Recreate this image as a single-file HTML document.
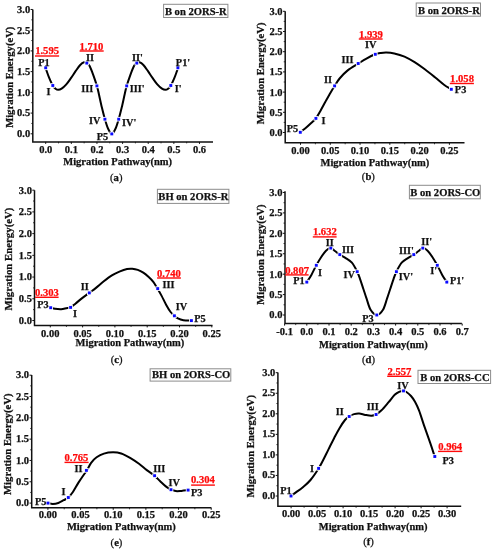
<!DOCTYPE html>
<html><head><meta charset="utf-8"><title>Migration energy profiles</title>
<style>
html,body{margin:0;padding:0;background:#fff;}
body{width:493px;height:550px;overflow:hidden;}
svg{display:block;}
svg text{font-family:'Liberation Serif', 'Times New Roman', serif;font-weight:bold;stroke-width:0.25px;}
svg text.nw{font-weight:normal;} svg text .bd{font-weight:bold;}
</style></head>
<body>
<svg width="493" height="550" viewBox="0 0 493 550">
<rect width="493" height="550" fill="#fff"/>
<path d="M32.80,9.50 V141.90 H213.00" fill="none" stroke="#111" stroke-width="1.5"/>
<line x1="30.60" y1="133.80" x2="32.80" y2="133.80" stroke="#111" stroke-width="1"/>
<line x1="30.60" y1="113.08" x2="32.80" y2="113.08" stroke="#111" stroke-width="1"/>
<line x1="30.60" y1="92.36" x2="32.80" y2="92.36" stroke="#111" stroke-width="1"/>
<line x1="30.60" y1="71.64" x2="32.80" y2="71.64" stroke="#111" stroke-width="1"/>
<line x1="30.60" y1="50.92" x2="32.80" y2="50.92" stroke="#111" stroke-width="1"/>
<line x1="30.60" y1="30.20" x2="32.80" y2="30.20" stroke="#111" stroke-width="1"/>
<line x1="30.60" y1="9.48" x2="32.80" y2="9.48" stroke="#111" stroke-width="1"/>
<line x1="31.30" y1="123.44" x2="32.80" y2="123.44" stroke="#111" stroke-width="0.8"/>
<line x1="31.30" y1="102.72" x2="32.80" y2="102.72" stroke="#111" stroke-width="0.8"/>
<line x1="31.30" y1="82.00" x2="32.80" y2="82.00" stroke="#111" stroke-width="0.8"/>
<line x1="31.30" y1="61.28" x2="32.80" y2="61.28" stroke="#111" stroke-width="0.8"/>
<line x1="31.30" y1="40.56" x2="32.80" y2="40.56" stroke="#111" stroke-width="0.8"/>
<line x1="31.30" y1="19.84" x2="32.80" y2="19.84" stroke="#111" stroke-width="0.8"/>
<line x1="58.52" y1="141.90" x2="58.52" y2="143.40" stroke="#111" stroke-width="0.8"/>
<line x1="84.15" y1="141.90" x2="84.15" y2="143.40" stroke="#111" stroke-width="0.8"/>
<line x1="109.78" y1="141.90" x2="109.78" y2="143.40" stroke="#111" stroke-width="0.8"/>
<line x1="135.41" y1="141.90" x2="135.41" y2="143.40" stroke="#111" stroke-width="0.8"/>
<line x1="161.04" y1="141.90" x2="161.04" y2="143.40" stroke="#111" stroke-width="0.8"/>
<line x1="186.67" y1="141.90" x2="186.67" y2="143.40" stroke="#111" stroke-width="0.8"/>
<line x1="45.70" y1="141.90" x2="45.70" y2="143.90" stroke="#111" stroke-width="1"/>
<line x1="71.33" y1="141.90" x2="71.33" y2="143.90" stroke="#111" stroke-width="1"/>
<line x1="96.96" y1="141.90" x2="96.96" y2="143.90" stroke="#111" stroke-width="1"/>
<line x1="122.59" y1="141.90" x2="122.59" y2="143.90" stroke="#111" stroke-width="1"/>
<line x1="148.22" y1="141.90" x2="148.22" y2="143.90" stroke="#111" stroke-width="1"/>
<line x1="173.85" y1="141.90" x2="173.85" y2="143.90" stroke="#111" stroke-width="1"/>
<line x1="199.48" y1="141.90" x2="199.48" y2="143.90" stroke="#111" stroke-width="1"/>
<rect x="163.60" y="4.30" width="64.30" height="13.20" fill="#fff" stroke="#8c8c8c" stroke-width="1"/>
<path d="M45.70,67.80 C45.92,68.50 46.40,70.27 47.00,72.00 C47.60,73.73 48.35,75.95 49.30,78.20 C50.25,80.45 51.67,83.75 52.70,85.50 C53.73,87.25 54.58,87.98 55.50,88.70 C56.42,89.42 57.18,89.80 58.20,89.80 C59.22,89.80 60.25,89.60 61.60,88.70 C62.95,87.80 64.75,86.15 66.30,84.40 C67.85,82.65 69.35,80.40 70.90,78.20 C72.45,76.00 74.05,73.40 75.60,71.20 C77.15,69.00 78.78,66.48 80.20,65.00 C81.62,63.52 83.00,62.63 84.10,62.30 C85.20,61.97 85.90,62.42 86.80,63.00 C87.70,63.58 88.42,63.78 89.50,65.80 C90.58,67.82 92.07,71.75 93.30,75.10 C94.53,78.45 95.98,82.80 96.90,85.90 C97.82,89.00 97.97,90.08 98.80,93.70 C99.63,97.32 100.88,103.35 101.90,107.60 C102.92,111.85 103.88,115.72 104.90,119.20 C105.92,122.68 106.85,126.05 108.00,128.50 C109.15,130.95 110.53,133.90 111.80,133.90 C113.07,133.90 114.45,130.95 115.60,128.50 C116.75,126.05 117.68,122.68 118.70,119.20 C119.72,115.72 120.68,111.85 121.70,107.60 C122.72,103.35 123.97,97.32 124.80,93.70 C125.63,90.08 125.78,89.00 126.70,85.90 C127.62,82.80 129.07,78.45 130.30,75.10 C131.53,71.75 133.02,67.82 134.10,65.80 C135.18,63.78 135.90,63.58 136.80,63.00 C137.70,62.42 138.40,61.97 139.50,62.30 C140.60,62.63 141.98,63.52 143.40,65.00 C144.82,66.48 146.45,69.00 148.00,71.20 C149.55,73.40 151.15,76.00 152.70,78.20 C154.25,80.40 155.75,82.65 157.30,84.40 C158.85,86.15 160.65,87.80 162.00,88.70 C163.35,89.60 164.38,89.80 165.40,89.80 C166.42,89.80 167.18,89.42 168.10,88.70 C169.02,87.98 169.87,87.25 170.90,85.50 C171.93,83.75 173.35,80.45 174.30,78.20 C175.25,75.95 176.00,73.73 176.60,72.00 C177.20,70.27 177.68,68.50 177.90,67.80" fill="none" stroke="#000" stroke-width="2" stroke-linecap="round"/>
<rect x="43.40" y="65.50" width="4.6" height="4.6" fill="#fff"/>
<rect x="50.50" y="83.20" width="4.6" height="4.6" fill="#fff"/>
<rect x="84.50" y="60.80" width="4.6" height="4.6" fill="#fff"/>
<rect x="94.60" y="83.60" width="4.6" height="4.6" fill="#fff"/>
<rect x="102.60" y="116.90" width="4.6" height="4.6" fill="#fff"/>
<rect x="109.50" y="131.60" width="4.6" height="4.6" fill="#fff"/>
<rect x="116.40" y="116.90" width="4.6" height="4.6" fill="#fff"/>
<rect x="124.40" y="83.60" width="4.6" height="4.6" fill="#fff"/>
<rect x="134.50" y="60.80" width="4.6" height="4.6" fill="#fff"/>
<rect x="168.50" y="83.20" width="4.6" height="4.6" fill="#fff"/>
<rect x="175.60" y="65.50" width="4.6" height="4.6" fill="#fff"/>
<rect x="44.25" y="66.35" width="2.9" height="2.9" fill="#0a0aff"/>
<rect x="51.35" y="84.05" width="2.9" height="2.9" fill="#0a0aff"/>
<rect x="85.35" y="61.65" width="2.9" height="2.9" fill="#0a0aff"/>
<rect x="95.45" y="84.45" width="2.9" height="2.9" fill="#0a0aff"/>
<rect x="103.45" y="117.75" width="2.9" height="2.9" fill="#0a0aff"/>
<rect x="110.35" y="132.45" width="2.9" height="2.9" fill="#0a0aff"/>
<rect x="117.25" y="117.75" width="2.9" height="2.9" fill="#0a0aff"/>
<rect x="125.25" y="84.45" width="2.9" height="2.9" fill="#0a0aff"/>
<rect x="135.35" y="61.65" width="2.9" height="2.9" fill="#0a0aff"/>
<rect x="169.35" y="84.05" width="2.9" height="2.9" fill="#0a0aff"/>
<rect x="176.45" y="66.35" width="2.9" height="2.9" fill="#0a0aff"/>
<line x1="35.00" y1="56.00" x2="59.10" y2="56.00" stroke="#ff0a0a" stroke-width="1.4"/>
<line x1="79.60" y1="51.00" x2="103.70" y2="51.00" stroke="#ff0a0a" stroke-width="1.4"/>
<path d="M285.20,11.20 V142.80 H464.50" fill="none" stroke="#111" stroke-width="1.5"/>
<line x1="283.00" y1="132.50" x2="285.20" y2="132.50" stroke="#111" stroke-width="1"/>
<line x1="283.00" y1="112.30" x2="285.20" y2="112.30" stroke="#111" stroke-width="1"/>
<line x1="283.00" y1="92.10" x2="285.20" y2="92.10" stroke="#111" stroke-width="1"/>
<line x1="283.00" y1="71.90" x2="285.20" y2="71.90" stroke="#111" stroke-width="1"/>
<line x1="283.00" y1="51.70" x2="285.20" y2="51.70" stroke="#111" stroke-width="1"/>
<line x1="283.00" y1="31.50" x2="285.20" y2="31.50" stroke="#111" stroke-width="1"/>
<line x1="283.00" y1="11.30" x2="285.20" y2="11.30" stroke="#111" stroke-width="1"/>
<line x1="283.70" y1="122.40" x2="285.20" y2="122.40" stroke="#111" stroke-width="0.8"/>
<line x1="283.70" y1="102.20" x2="285.20" y2="102.20" stroke="#111" stroke-width="0.8"/>
<line x1="283.70" y1="82.00" x2="285.20" y2="82.00" stroke="#111" stroke-width="0.8"/>
<line x1="283.70" y1="61.80" x2="285.20" y2="61.80" stroke="#111" stroke-width="0.8"/>
<line x1="283.70" y1="41.60" x2="285.20" y2="41.60" stroke="#111" stroke-width="0.8"/>
<line x1="283.70" y1="21.40" x2="285.20" y2="21.40" stroke="#111" stroke-width="0.8"/>
<line x1="315.39" y1="142.80" x2="315.39" y2="144.30" stroke="#111" stroke-width="0.8"/>
<line x1="345.17" y1="142.80" x2="345.17" y2="144.30" stroke="#111" stroke-width="0.8"/>
<line x1="374.95" y1="142.80" x2="374.95" y2="144.30" stroke="#111" stroke-width="0.8"/>
<line x1="404.73" y1="142.80" x2="404.73" y2="144.30" stroke="#111" stroke-width="0.8"/>
<line x1="434.51" y1="142.80" x2="434.51" y2="144.30" stroke="#111" stroke-width="0.8"/>
<line x1="300.50" y1="142.80" x2="300.50" y2="144.80" stroke="#111" stroke-width="1"/>
<line x1="330.28" y1="142.80" x2="330.28" y2="144.80" stroke="#111" stroke-width="1"/>
<line x1="360.06" y1="142.80" x2="360.06" y2="144.80" stroke="#111" stroke-width="1"/>
<line x1="389.84" y1="142.80" x2="389.84" y2="144.80" stroke="#111" stroke-width="1"/>
<line x1="419.62" y1="142.80" x2="419.62" y2="144.80" stroke="#111" stroke-width="1"/>
<line x1="449.40" y1="142.80" x2="449.40" y2="144.80" stroke="#111" stroke-width="1"/>
<rect x="416.20" y="3.00" width="64.30" height="13.20" fill="#fff" stroke="#8c8c8c" stroke-width="1"/>
<path d="M300.10,132.20 C300.93,131.60 303.25,130.12 305.10,128.60 C306.95,127.08 309.40,124.80 311.20,123.10 C313.00,121.40 314.37,120.43 315.90,118.40 C317.43,116.37 318.82,113.67 320.40,110.90 C321.98,108.13 323.72,104.83 325.40,101.80 C327.08,98.77 328.97,95.33 330.50,92.70 C332.03,90.07 333.08,88.37 334.60,86.00 C336.12,83.63 337.42,81.10 339.60,78.50 C341.78,75.90 344.58,72.88 347.70,70.40 C350.82,67.92 355.25,65.53 358.30,63.60 C361.35,61.67 363.18,60.37 366.00,58.80 C368.82,57.23 372.85,55.15 375.20,54.20 C377.55,53.25 378.27,53.38 380.10,53.10 C381.93,52.82 383.83,52.45 386.20,52.50 C388.57,52.55 391.25,52.72 394.30,53.40 C397.35,54.08 401.12,55.13 404.50,56.60 C407.88,58.07 411.22,60.08 414.60,62.20 C417.98,64.32 421.42,66.80 424.80,69.30 C428.18,71.80 431.70,74.63 434.90,77.20 C438.10,79.77 441.28,82.68 444.00,84.70 C446.72,86.72 450.00,88.53 451.20,89.30" fill="none" stroke="#000" stroke-width="2" stroke-linecap="round"/>
<rect x="298.00" y="130.00" width="4.6" height="4.6" fill="#fff"/>
<rect x="313.60" y="116.10" width="4.6" height="4.6" fill="#fff"/>
<rect x="332.30" y="83.60" width="4.6" height="4.6" fill="#fff"/>
<rect x="355.90" y="61.20" width="4.6" height="4.6" fill="#fff"/>
<rect x="373.00" y="52.00" width="4.6" height="4.6" fill="#fff"/>
<rect x="449.00" y="87.00" width="4.6" height="4.6" fill="#fff"/>
<rect x="298.85" y="130.85" width="2.9" height="2.9" fill="#0a0aff"/>
<rect x="314.45" y="116.95" width="2.9" height="2.9" fill="#0a0aff"/>
<rect x="333.15" y="84.45" width="2.9" height="2.9" fill="#0a0aff"/>
<rect x="356.75" y="62.05" width="2.9" height="2.9" fill="#0a0aff"/>
<rect x="373.85" y="52.85" width="2.9" height="2.9" fill="#0a0aff"/>
<rect x="449.85" y="87.85" width="2.9" height="2.9" fill="#0a0aff"/>
<line x1="358.80" y1="39.00" x2="382.60" y2="39.00" stroke="#ff0a0a" stroke-width="1.4"/>
<line x1="449.80" y1="83.50" x2="473.90" y2="83.50" stroke="#ff0a0a" stroke-width="1.4"/>
<path d="M34.50,190.20 V325.40 H212.50" fill="none" stroke="#111" stroke-width="1.5"/>
<line x1="32.30" y1="320.50" x2="34.50" y2="320.50" stroke="#111" stroke-width="1"/>
<line x1="32.30" y1="298.78" x2="34.50" y2="298.78" stroke="#111" stroke-width="1"/>
<line x1="32.30" y1="277.06" x2="34.50" y2="277.06" stroke="#111" stroke-width="1"/>
<line x1="32.30" y1="255.34" x2="34.50" y2="255.34" stroke="#111" stroke-width="1"/>
<line x1="32.30" y1="233.62" x2="34.50" y2="233.62" stroke="#111" stroke-width="1"/>
<line x1="32.30" y1="211.90" x2="34.50" y2="211.90" stroke="#111" stroke-width="1"/>
<line x1="32.30" y1="190.18" x2="34.50" y2="190.18" stroke="#111" stroke-width="1"/>
<line x1="33.00" y1="309.64" x2="34.50" y2="309.64" stroke="#111" stroke-width="0.8"/>
<line x1="33.00" y1="287.92" x2="34.50" y2="287.92" stroke="#111" stroke-width="0.8"/>
<line x1="33.00" y1="266.20" x2="34.50" y2="266.20" stroke="#111" stroke-width="0.8"/>
<line x1="33.00" y1="244.48" x2="34.50" y2="244.48" stroke="#111" stroke-width="0.8"/>
<line x1="33.00" y1="222.76" x2="34.50" y2="222.76" stroke="#111" stroke-width="0.8"/>
<line x1="33.00" y1="201.04" x2="34.50" y2="201.04" stroke="#111" stroke-width="0.8"/>
<line x1="66.45" y1="325.40" x2="66.45" y2="326.90" stroke="#111" stroke-width="0.8"/>
<line x1="98.75" y1="325.40" x2="98.75" y2="326.90" stroke="#111" stroke-width="0.8"/>
<line x1="131.05" y1="325.40" x2="131.05" y2="326.90" stroke="#111" stroke-width="0.8"/>
<line x1="163.35" y1="325.40" x2="163.35" y2="326.90" stroke="#111" stroke-width="0.8"/>
<line x1="195.65" y1="325.40" x2="195.65" y2="326.90" stroke="#111" stroke-width="0.8"/>
<line x1="50.30" y1="325.40" x2="50.30" y2="327.40" stroke="#111" stroke-width="1"/>
<line x1="82.60" y1="325.40" x2="82.60" y2="327.40" stroke="#111" stroke-width="1"/>
<line x1="114.90" y1="325.40" x2="114.90" y2="327.40" stroke="#111" stroke-width="1"/>
<line x1="147.20" y1="325.40" x2="147.20" y2="327.40" stroke="#111" stroke-width="1"/>
<line x1="179.50" y1="325.40" x2="179.50" y2="327.40" stroke="#111" stroke-width="1"/>
<line x1="211.80" y1="325.40" x2="211.80" y2="327.40" stroke="#111" stroke-width="1"/>
<rect x="157.40" y="189.30" width="71.50" height="14.10" fill="#fff" stroke="#8c8c8c" stroke-width="1"/>
<path d="M50.70,307.70 C51.43,307.88 53.35,308.55 55.10,308.80 C56.85,309.05 59.33,309.28 61.20,309.20 C63.07,309.12 64.75,308.60 66.30,308.30 C67.85,308.00 68.98,308.17 70.50,307.40 C72.02,306.63 73.57,305.17 75.40,303.70 C77.23,302.23 79.20,300.40 81.50,298.60 C83.80,296.80 86.83,294.65 89.20,292.90 C91.57,291.15 93.27,290.03 95.70,288.10 C98.13,286.17 101.10,283.42 103.80,281.30 C106.50,279.18 109.20,277.07 111.90,275.40 C114.60,273.73 117.48,272.37 120.00,271.30 C122.52,270.23 124.95,269.43 127.00,269.00 C129.05,268.57 130.50,268.55 132.30,268.70 C134.10,268.85 135.97,269.23 137.80,269.90 C139.63,270.57 141.48,271.50 143.30,272.70 C145.12,273.90 147.03,275.57 148.70,277.10 C150.37,278.63 151.83,279.97 153.30,281.90 C154.77,283.83 156.13,286.42 157.50,288.70 C158.87,290.98 160.07,292.93 161.50,295.60 C162.93,298.27 164.58,301.97 166.10,304.70 C167.62,307.43 169.23,310.17 170.60,312.00 C171.97,313.83 173.08,314.63 174.30,315.70 C175.52,316.77 176.38,317.65 177.90,318.40 C179.42,319.15 181.20,319.83 183.40,320.20 C185.60,320.57 189.82,320.53 191.10,320.60" fill="none" stroke="#000" stroke-width="2" stroke-linecap="round"/>
<rect x="48.40" y="305.40" width="4.6" height="4.6" fill="#fff"/>
<rect x="68.30" y="305.10" width="4.6" height="4.6" fill="#fff"/>
<rect x="87.00" y="290.60" width="4.6" height="4.6" fill="#fff"/>
<rect x="155.40" y="286.30" width="4.6" height="4.6" fill="#fff"/>
<rect x="172.10" y="313.50" width="4.6" height="4.6" fill="#fff"/>
<rect x="189.10" y="318.30" width="4.6" height="4.6" fill="#fff"/>
<rect x="49.25" y="306.25" width="2.9" height="2.9" fill="#0a0aff"/>
<rect x="69.15" y="305.95" width="2.9" height="2.9" fill="#0a0aff"/>
<rect x="87.85" y="291.45" width="2.9" height="2.9" fill="#0a0aff"/>
<rect x="156.25" y="287.15" width="2.9" height="2.9" fill="#0a0aff"/>
<rect x="172.95" y="314.35" width="2.9" height="2.9" fill="#0a0aff"/>
<rect x="189.95" y="319.15" width="2.9" height="2.9" fill="#0a0aff"/>
<line x1="35.10" y1="297.30" x2="58.60" y2="297.30" stroke="#ff0a0a" stroke-width="1.4"/>
<line x1="157.10" y1="278.00" x2="180.90" y2="278.00" stroke="#ff0a0a" stroke-width="1.4"/>
<path d="M285.00,191.20 V323.60 H461.90" fill="none" stroke="#111" stroke-width="1.5"/>
<line x1="282.80" y1="315.00" x2="285.00" y2="315.00" stroke="#111" stroke-width="1"/>
<line x1="282.80" y1="294.58" x2="285.00" y2="294.58" stroke="#111" stroke-width="1"/>
<line x1="282.80" y1="274.16" x2="285.00" y2="274.16" stroke="#111" stroke-width="1"/>
<line x1="282.80" y1="253.74" x2="285.00" y2="253.74" stroke="#111" stroke-width="1"/>
<line x1="282.80" y1="233.32" x2="285.00" y2="233.32" stroke="#111" stroke-width="1"/>
<line x1="282.80" y1="212.90" x2="285.00" y2="212.90" stroke="#111" stroke-width="1"/>
<line x1="282.80" y1="192.48" x2="285.00" y2="192.48" stroke="#111" stroke-width="1"/>
<line x1="283.50" y1="304.79" x2="285.00" y2="304.79" stroke="#111" stroke-width="0.8"/>
<line x1="283.50" y1="284.37" x2="285.00" y2="284.37" stroke="#111" stroke-width="0.8"/>
<line x1="283.50" y1="263.95" x2="285.00" y2="263.95" stroke="#111" stroke-width="0.8"/>
<line x1="283.50" y1="243.53" x2="285.00" y2="243.53" stroke="#111" stroke-width="0.8"/>
<line x1="283.50" y1="223.11" x2="285.00" y2="223.11" stroke="#111" stroke-width="0.8"/>
<line x1="283.50" y1="202.69" x2="285.00" y2="202.69" stroke="#111" stroke-width="0.8"/>
<line x1="295.70" y1="323.60" x2="295.70" y2="325.10" stroke="#111" stroke-width="0.8"/>
<line x1="317.90" y1="323.60" x2="317.90" y2="325.10" stroke="#111" stroke-width="0.8"/>
<line x1="340.10" y1="323.60" x2="340.10" y2="325.10" stroke="#111" stroke-width="0.8"/>
<line x1="362.30" y1="323.60" x2="362.30" y2="325.10" stroke="#111" stroke-width="0.8"/>
<line x1="384.50" y1="323.60" x2="384.50" y2="325.10" stroke="#111" stroke-width="0.8"/>
<line x1="406.70" y1="323.60" x2="406.70" y2="325.10" stroke="#111" stroke-width="0.8"/>
<line x1="428.90" y1="323.60" x2="428.90" y2="325.10" stroke="#111" stroke-width="0.8"/>
<line x1="451.10" y1="323.60" x2="451.10" y2="325.10" stroke="#111" stroke-width="0.8"/>
<line x1="284.60" y1="323.60" x2="284.60" y2="325.60" stroke="#111" stroke-width="1"/>
<line x1="306.80" y1="323.60" x2="306.80" y2="325.60" stroke="#111" stroke-width="1"/>
<line x1="329.00" y1="323.60" x2="329.00" y2="325.60" stroke="#111" stroke-width="1"/>
<line x1="351.20" y1="323.60" x2="351.20" y2="325.60" stroke="#111" stroke-width="1"/>
<line x1="373.40" y1="323.60" x2="373.40" y2="325.60" stroke="#111" stroke-width="1"/>
<line x1="395.60" y1="323.60" x2="395.60" y2="325.60" stroke="#111" stroke-width="1"/>
<line x1="417.80" y1="323.60" x2="417.80" y2="325.60" stroke="#111" stroke-width="1"/>
<line x1="440.00" y1="323.60" x2="440.00" y2="325.60" stroke="#111" stroke-width="1"/>
<line x1="462.20" y1="323.60" x2="462.20" y2="325.60" stroke="#111" stroke-width="1"/>
<rect x="409.40" y="185.30" width="70.90" height="13.50" fill="#fff" stroke="#8c8c8c" stroke-width="1"/>
<path d="M306.80,282.10 C307.57,280.90 309.82,277.70 311.40,274.90 C312.98,272.10 314.68,268.25 316.30,265.30 C317.92,262.35 319.48,259.63 321.10,257.20 C322.72,254.77 324.42,252.22 326.00,250.70 C327.58,249.18 329.12,248.05 330.60,248.10 C332.08,248.15 333.37,249.92 334.90,251.00 C336.43,252.08 338.05,253.45 339.80,254.60 C341.55,255.75 343.38,256.55 345.40,257.90 C347.42,259.25 349.93,260.40 351.90,262.70 C353.87,265.00 355.85,269.00 357.20,271.70 C358.55,274.40 358.98,276.07 360.00,278.90 C361.02,281.73 362.22,285.45 363.30,288.70 C364.38,291.95 365.28,294.88 366.50,298.40 C367.72,301.92 368.88,307.03 370.60,309.80 C372.32,312.57 374.73,315.00 376.80,315.00 C378.87,315.00 381.28,312.57 383.00,309.80 C384.72,307.03 385.88,301.92 387.10,298.40 C388.32,294.88 389.22,291.95 390.30,288.70 C391.38,285.45 392.58,281.73 393.60,278.90 C394.62,276.07 395.05,274.40 396.40,271.70 C397.75,269.00 399.73,265.00 401.70,262.70 C403.67,260.40 406.18,259.25 408.20,257.90 C410.22,256.55 412.05,255.75 413.80,254.60 C415.55,253.45 417.17,252.08 418.70,251.00 C420.23,249.92 421.52,248.15 423.00,248.10 C424.48,248.05 426.02,249.18 427.60,250.70 C429.18,252.22 430.88,254.77 432.50,257.20 C434.12,259.63 435.68,262.35 437.30,265.30 C438.92,268.25 440.62,272.10 442.20,274.90 C443.78,277.70 446.03,280.90 446.80,282.10" fill="none" stroke="#000" stroke-width="2" stroke-linecap="round"/>
<rect x="304.50" y="279.80" width="4.6" height="4.6" fill="#fff"/>
<rect x="314.00" y="263.00" width="4.6" height="4.6" fill="#fff"/>
<rect x="328.50" y="245.80" width="4.6" height="4.6" fill="#fff"/>
<rect x="337.50" y="252.30" width="4.6" height="4.6" fill="#fff"/>
<rect x="354.90" y="269.40" width="4.6" height="4.6" fill="#fff"/>
<rect x="374.50" y="312.70" width="4.6" height="4.6" fill="#fff"/>
<rect x="394.10" y="269.40" width="4.6" height="4.6" fill="#fff"/>
<rect x="411.50" y="252.30" width="4.6" height="4.6" fill="#fff"/>
<rect x="420.50" y="245.80" width="4.6" height="4.6" fill="#fff"/>
<rect x="435.00" y="263.00" width="4.6" height="4.6" fill="#fff"/>
<rect x="444.50" y="279.80" width="4.6" height="4.6" fill="#fff"/>
<rect x="305.35" y="280.65" width="2.9" height="2.9" fill="#0a0aff"/>
<rect x="314.85" y="263.85" width="2.9" height="2.9" fill="#0a0aff"/>
<rect x="329.35" y="246.65" width="2.9" height="2.9" fill="#0a0aff"/>
<rect x="338.35" y="253.15" width="2.9" height="2.9" fill="#0a0aff"/>
<rect x="355.75" y="270.25" width="2.9" height="2.9" fill="#0a0aff"/>
<rect x="375.35" y="313.55" width="2.9" height="2.9" fill="#0a0aff"/>
<rect x="394.95" y="270.25" width="2.9" height="2.9" fill="#0a0aff"/>
<rect x="412.35" y="253.15" width="2.9" height="2.9" fill="#0a0aff"/>
<rect x="421.35" y="246.65" width="2.9" height="2.9" fill="#0a0aff"/>
<rect x="435.85" y="263.85" width="2.9" height="2.9" fill="#0a0aff"/>
<rect x="445.35" y="280.65" width="2.9" height="2.9" fill="#0a0aff"/>
<line x1="312.80" y1="236.90" x2="336.60" y2="236.90" stroke="#ff0a0a" stroke-width="1.4"/>
<line x1="285.20" y1="274.90" x2="308.60" y2="274.90" stroke="#ff0a0a" stroke-width="1.4"/>
<path d="M31.70,375.10 V507.80 H211.40" fill="none" stroke="#111" stroke-width="1.5"/>
<line x1="29.50" y1="503.10" x2="31.70" y2="503.10" stroke="#111" stroke-width="1"/>
<line x1="29.50" y1="481.78" x2="31.70" y2="481.78" stroke="#111" stroke-width="1"/>
<line x1="29.50" y1="460.46" x2="31.70" y2="460.46" stroke="#111" stroke-width="1"/>
<line x1="29.50" y1="439.14" x2="31.70" y2="439.14" stroke="#111" stroke-width="1"/>
<line x1="29.50" y1="417.82" x2="31.70" y2="417.82" stroke="#111" stroke-width="1"/>
<line x1="29.50" y1="396.50" x2="31.70" y2="396.50" stroke="#111" stroke-width="1"/>
<line x1="29.50" y1="375.18" x2="31.70" y2="375.18" stroke="#111" stroke-width="1"/>
<line x1="30.20" y1="492.44" x2="31.70" y2="492.44" stroke="#111" stroke-width="0.8"/>
<line x1="30.20" y1="471.12" x2="31.70" y2="471.12" stroke="#111" stroke-width="0.8"/>
<line x1="30.20" y1="449.80" x2="31.70" y2="449.80" stroke="#111" stroke-width="0.8"/>
<line x1="30.20" y1="428.48" x2="31.70" y2="428.48" stroke="#111" stroke-width="0.8"/>
<line x1="30.20" y1="407.16" x2="31.70" y2="407.16" stroke="#111" stroke-width="0.8"/>
<line x1="30.20" y1="385.84" x2="31.70" y2="385.84" stroke="#111" stroke-width="0.8"/>
<line x1="64.23" y1="507.80" x2="64.23" y2="509.30" stroke="#111" stroke-width="0.8"/>
<line x1="96.89" y1="507.80" x2="96.89" y2="509.30" stroke="#111" stroke-width="0.8"/>
<line x1="129.55" y1="507.80" x2="129.55" y2="509.30" stroke="#111" stroke-width="0.8"/>
<line x1="162.21" y1="507.80" x2="162.21" y2="509.30" stroke="#111" stroke-width="0.8"/>
<line x1="194.87" y1="507.80" x2="194.87" y2="509.30" stroke="#111" stroke-width="0.8"/>
<line x1="47.90" y1="507.80" x2="47.90" y2="509.80" stroke="#111" stroke-width="1"/>
<line x1="80.56" y1="507.80" x2="80.56" y2="509.80" stroke="#111" stroke-width="1"/>
<line x1="113.22" y1="507.80" x2="113.22" y2="509.80" stroke="#111" stroke-width="1"/>
<line x1="145.88" y1="507.80" x2="145.88" y2="509.80" stroke="#111" stroke-width="1"/>
<line x1="178.54" y1="507.80" x2="178.54" y2="509.80" stroke="#111" stroke-width="1"/>
<line x1="211.20" y1="507.80" x2="211.20" y2="509.80" stroke="#111" stroke-width="1"/>
<rect x="150.10" y="368.80" width="80.70" height="12.30" fill="#fff" stroke="#8c8c8c" stroke-width="1"/>
<path d="M47.80,503.00 C48.63,503.15 51.05,503.90 52.80,503.90 C54.55,503.90 56.48,503.62 58.30,503.00 C60.12,502.38 62.03,501.12 63.70,500.20 C65.37,499.28 66.77,498.87 68.30,497.50 C69.83,496.13 71.23,494.43 72.90,492.00 C74.57,489.57 76.48,485.78 78.30,482.90 C80.12,480.02 82.33,476.83 83.80,474.70 C85.27,472.57 85.88,472.08 87.10,470.10 C88.32,468.12 89.52,464.93 91.10,462.80 C92.68,460.67 94.47,458.83 96.60,457.30 C98.73,455.77 101.17,454.43 103.90,453.60 C106.63,452.77 110.12,452.32 113.00,452.30 C115.88,452.28 118.35,452.57 121.20,453.50 C124.05,454.43 127.13,456.18 130.10,457.90 C133.07,459.62 136.22,461.77 139.00,463.80 C141.78,465.83 144.20,468.12 146.80,470.10 C149.40,472.08 152.37,473.83 154.60,475.70 C156.83,477.57 158.33,479.52 160.20,481.30 C162.07,483.08 164.02,485.03 165.80,486.40 C167.58,487.77 169.23,488.72 170.90,489.50 C172.57,490.28 174.05,490.87 175.80,491.10 C177.55,491.33 179.35,491.05 181.40,490.90 C183.45,490.75 186.98,490.32 188.10,490.20" fill="none" stroke="#000" stroke-width="2" stroke-linecap="round"/>
<rect x="45.70" y="500.80" width="4.6" height="4.6" fill="#fff"/>
<rect x="66.00" y="495.20" width="4.6" height="4.6" fill="#fff"/>
<rect x="84.10" y="468.10" width="4.6" height="4.6" fill="#fff"/>
<rect x="152.30" y="473.40" width="4.6" height="4.6" fill="#fff"/>
<rect x="168.70" y="487.40" width="4.6" height="4.6" fill="#fff"/>
<rect x="185.80" y="487.80" width="4.6" height="4.6" fill="#fff"/>
<rect x="46.55" y="501.65" width="2.9" height="2.9" fill="#0a0aff"/>
<rect x="66.85" y="496.05" width="2.9" height="2.9" fill="#0a0aff"/>
<rect x="84.95" y="468.95" width="2.9" height="2.9" fill="#0a0aff"/>
<rect x="153.15" y="474.25" width="2.9" height="2.9" fill="#0a0aff"/>
<rect x="169.55" y="488.25" width="2.9" height="2.9" fill="#0a0aff"/>
<rect x="186.65" y="488.65" width="2.9" height="2.9" fill="#0a0aff"/>
<line x1="64.50" y1="462.40" x2="88.60" y2="462.40" stroke="#ff0a0a" stroke-width="1.4"/>
<line x1="191.10" y1="485.10" x2="214.90" y2="485.10" stroke="#ff0a0a" stroke-width="1.4"/>
<path d="M277.90,372.60 V506.30 H461.20" fill="none" stroke="#111" stroke-width="1.5"/>
<line x1="275.70" y1="496.00" x2="277.90" y2="496.00" stroke="#111" stroke-width="1"/>
<line x1="275.70" y1="475.45" x2="277.90" y2="475.45" stroke="#111" stroke-width="1"/>
<line x1="275.70" y1="454.90" x2="277.90" y2="454.90" stroke="#111" stroke-width="1"/>
<line x1="275.70" y1="434.35" x2="277.90" y2="434.35" stroke="#111" stroke-width="1"/>
<line x1="275.70" y1="413.80" x2="277.90" y2="413.80" stroke="#111" stroke-width="1"/>
<line x1="275.70" y1="393.25" x2="277.90" y2="393.25" stroke="#111" stroke-width="1"/>
<line x1="275.70" y1="372.70" x2="277.90" y2="372.70" stroke="#111" stroke-width="1"/>
<line x1="276.40" y1="485.73" x2="277.90" y2="485.73" stroke="#111" stroke-width="0.8"/>
<line x1="276.40" y1="465.18" x2="277.90" y2="465.18" stroke="#111" stroke-width="0.8"/>
<line x1="276.40" y1="444.62" x2="277.90" y2="444.62" stroke="#111" stroke-width="0.8"/>
<line x1="276.40" y1="424.07" x2="277.90" y2="424.07" stroke="#111" stroke-width="0.8"/>
<line x1="276.40" y1="403.52" x2="277.90" y2="403.52" stroke="#111" stroke-width="0.8"/>
<line x1="276.40" y1="382.98" x2="277.90" y2="382.98" stroke="#111" stroke-width="0.8"/>
<line x1="304.10" y1="506.30" x2="304.10" y2="507.80" stroke="#111" stroke-width="0.8"/>
<line x1="330.10" y1="506.30" x2="330.10" y2="507.80" stroke="#111" stroke-width="0.8"/>
<line x1="356.10" y1="506.30" x2="356.10" y2="507.80" stroke="#111" stroke-width="0.8"/>
<line x1="382.10" y1="506.30" x2="382.10" y2="507.80" stroke="#111" stroke-width="0.8"/>
<line x1="408.10" y1="506.30" x2="408.10" y2="507.80" stroke="#111" stroke-width="0.8"/>
<line x1="434.10" y1="506.30" x2="434.10" y2="507.80" stroke="#111" stroke-width="0.8"/>
<line x1="291.10" y1="506.30" x2="291.10" y2="508.30" stroke="#111" stroke-width="1"/>
<line x1="317.10" y1="506.30" x2="317.10" y2="508.30" stroke="#111" stroke-width="1"/>
<line x1="343.10" y1="506.30" x2="343.10" y2="508.30" stroke="#111" stroke-width="1"/>
<line x1="369.10" y1="506.30" x2="369.10" y2="508.30" stroke="#111" stroke-width="1"/>
<line x1="395.10" y1="506.30" x2="395.10" y2="508.30" stroke="#111" stroke-width="1"/>
<line x1="421.10" y1="506.30" x2="421.10" y2="508.30" stroke="#111" stroke-width="1"/>
<line x1="447.10" y1="506.30" x2="447.10" y2="508.30" stroke="#111" stroke-width="1"/>
<rect x="418.00" y="370.30" width="72.60" height="13.20" fill="#fff" stroke="#8c8c8c" stroke-width="1"/>
<path d="M291.00,495.80 C291.82,495.23 293.87,493.88 295.90,492.40 C297.93,490.92 300.77,488.97 303.20,486.90 C305.63,484.83 307.93,483.07 310.50,480.00 C313.07,476.93 316.48,471.83 318.60,468.50 C320.72,465.17 321.53,463.23 323.20,460.00 C324.87,456.77 326.78,452.73 328.60,449.10 C330.42,445.47 332.28,441.68 334.10,438.20 C335.92,434.72 337.68,431.23 339.50,428.20 C341.32,425.17 343.38,421.97 345.00,420.00 C346.62,418.03 347.68,417.38 349.20,416.40 C350.72,415.42 352.43,414.58 354.10,414.10 C355.77,413.62 357.33,413.37 359.20,413.50 C361.07,413.63 363.27,414.53 365.30,414.90 C367.33,415.27 369.62,415.77 371.40,415.70 C373.18,415.63 374.32,415.40 376.00,414.50 C377.68,413.60 379.40,412.35 381.50,410.30 C383.60,408.25 386.40,404.78 388.60,402.20 C390.80,399.62 392.87,396.57 394.70,394.80 C396.53,393.03 398.15,392.25 399.60,391.60 C401.05,390.95 402.27,390.83 403.40,390.90 C404.53,390.97 405.13,391.15 406.40,392.00 C407.67,392.85 409.57,394.38 411.00,396.00 C412.43,397.62 413.65,399.27 415.00,401.70 C416.35,404.13 417.58,406.62 419.10,410.60 C420.62,414.58 422.25,420.22 424.10,425.60 C425.95,430.98 428.43,437.75 430.20,442.90 C431.97,448.05 433.95,454.23 434.70,456.50" fill="none" stroke="#000" stroke-width="2" stroke-linecap="round"/>
<rect x="288.70" y="493.70" width="4.6" height="4.6" fill="#fff"/>
<rect x="316.30" y="466.10" width="4.6" height="4.6" fill="#fff"/>
<rect x="346.90" y="414.20" width="4.6" height="4.6" fill="#fff"/>
<rect x="373.80" y="412.20" width="4.6" height="4.6" fill="#fff"/>
<rect x="401.20" y="388.60" width="4.6" height="4.6" fill="#fff"/>
<rect x="432.50" y="454.20" width="4.6" height="4.6" fill="#fff"/>
<rect x="289.55" y="494.55" width="2.9" height="2.9" fill="#0a0aff"/>
<rect x="317.15" y="466.95" width="2.9" height="2.9" fill="#0a0aff"/>
<rect x="347.75" y="415.05" width="2.9" height="2.9" fill="#0a0aff"/>
<rect x="374.65" y="413.05" width="2.9" height="2.9" fill="#0a0aff"/>
<rect x="402.05" y="389.45" width="2.9" height="2.9" fill="#0a0aff"/>
<rect x="433.35" y="455.05" width="2.9" height="2.9" fill="#0a0aff"/>
<line x1="387.20" y1="376.30" x2="411.40" y2="376.30" stroke="#ff0a0a" stroke-width="1.4"/>
<line x1="438.10" y1="451.40" x2="462.30" y2="451.40" stroke="#ff0a0a" stroke-width="1.4"/>
<text x="30.20" y="137.20" font-size="10.5" text-anchor="end" fill="#111" stroke="#111">0.0</text>
<text x="30.20" y="116.48" font-size="10.5" text-anchor="end" fill="#111" stroke="#111">0.5</text>
<text x="30.20" y="95.76" font-size="10.5" text-anchor="end" fill="#111" stroke="#111">1.0</text>
<text x="30.20" y="75.04" font-size="10.5" text-anchor="end" fill="#111" stroke="#111">1.5</text>
<text x="30.20" y="54.32" font-size="10.5" text-anchor="end" fill="#111" stroke="#111">2.0</text>
<text x="30.20" y="33.60" font-size="10.5" text-anchor="end" fill="#111" stroke="#111">2.5</text>
<text x="30.20" y="12.88" font-size="10.5" text-anchor="end" fill="#111" stroke="#111">3.0</text>
<text x="45.70" y="153.20" font-size="10.5" text-anchor="middle" fill="#111" stroke="#111">0.0</text>
<text x="71.33" y="153.20" font-size="10.5" text-anchor="middle" fill="#111" stroke="#111">0.1</text>
<text x="96.96" y="153.20" font-size="10.5" text-anchor="middle" fill="#111" stroke="#111">0.2</text>
<text x="122.59" y="153.20" font-size="10.5" text-anchor="middle" fill="#111" stroke="#111">0.3</text>
<text x="148.22" y="153.20" font-size="10.5" text-anchor="middle" fill="#111" stroke="#111">0.4</text>
<text x="173.85" y="153.20" font-size="10.5" text-anchor="middle" fill="#111" stroke="#111">0.5</text>
<text x="199.48" y="153.20" font-size="10.5" text-anchor="middle" fill="#111" stroke="#111">0.6</text>
<text transform="translate(12.70,77.25) rotate(-90)" font-size="10.63" text-anchor="middle" fill="#111" stroke="#111">Migration Energy(eV)</text>
<text x="117.62" y="165.25" font-size="10.5" text-anchor="middle" fill="#111" stroke="#111">Migration Pathway(nm)</text>
<text class="nw" x="116.25" y="180.74" font-size="10.6" text-anchor="middle" fill="#111" stroke="#111">(<tspan class="bd">a</tspan>)</text>
<text x="195.80" y="15.06" font-size="10.6" text-anchor="middle" fill="#111" stroke="#111">B on 2ORS-R</text>
<text x="43.93" y="65.55" font-size="10.3" text-anchor="middle" fill="#111" stroke="#111">P1</text>
<text x="48.50" y="94.94" font-size="10.3" text-anchor="middle" fill="#111" stroke="#111">I</text>
<text x="89.90" y="60.87" font-size="10.3" text-anchor="middle" fill="#111" stroke="#111">II</text>
<text x="87.17" y="91.59" font-size="10.3" text-anchor="middle" fill="#111" stroke="#111">III</text>
<text x="94.74" y="123.75" font-size="10.3" text-anchor="middle" fill="#111" stroke="#111">IV</text>
<text x="102.55" y="139.50" font-size="10.3" text-anchor="middle" fill="#111" stroke="#111">P5</text>
<text x="129.25" y="125.50" font-size="10.3" text-anchor="middle" fill="#111" stroke="#111">IV'</text>
<text x="137.25" y="91.88" font-size="10.3" text-anchor="middle" fill="#111" stroke="#111">III'</text>
<text x="137.50" y="61.12" font-size="10.3" text-anchor="middle" fill="#111" stroke="#111">II'</text>
<text x="178.25" y="92.38" font-size="10.3" text-anchor="middle" fill="#111" stroke="#111">I'</text>
<text x="183.02" y="65.55" font-size="10.3" text-anchor="middle" fill="#111" stroke="#111">P1'</text>
<text x="47.09" y="54.46" font-size="10.6" text-anchor="middle" fill="#ff0a0a" stroke="#ff0a0a">1.595</text>
<text x="91.47" y="50.05" font-size="10.6" text-anchor="middle" fill="#ff0a0a" stroke="#ff0a0a">1.710</text>
<text x="282.60" y="135.90" font-size="10.5" text-anchor="end" fill="#111" stroke="#111">0.0</text>
<text x="282.60" y="115.70" font-size="10.5" text-anchor="end" fill="#111" stroke="#111">0.5</text>
<text x="282.60" y="95.50" font-size="10.5" text-anchor="end" fill="#111" stroke="#111">1.0</text>
<text x="282.60" y="75.30" font-size="10.5" text-anchor="end" fill="#111" stroke="#111">1.5</text>
<text x="282.60" y="55.10" font-size="10.5" text-anchor="end" fill="#111" stroke="#111">2.0</text>
<text x="282.60" y="34.90" font-size="10.5" text-anchor="end" fill="#111" stroke="#111">2.5</text>
<text x="282.60" y="14.70" font-size="10.5" text-anchor="end" fill="#111" stroke="#111">3.0</text>
<text x="300.50" y="153.70" font-size="10.5" text-anchor="middle" fill="#111" stroke="#111">0.00</text>
<text x="330.28" y="153.70" font-size="10.5" text-anchor="middle" fill="#111" stroke="#111">0.05</text>
<text x="360.06" y="153.70" font-size="10.5" text-anchor="middle" fill="#111" stroke="#111">0.10</text>
<text x="389.84" y="153.70" font-size="10.5" text-anchor="middle" fill="#111" stroke="#111">0.15</text>
<text x="419.62" y="153.70" font-size="10.5" text-anchor="middle" fill="#111" stroke="#111">0.20</text>
<text x="449.40" y="153.70" font-size="10.5" text-anchor="middle" fill="#111" stroke="#111">0.25</text>
<text transform="translate(263.90,73.30) rotate(-90)" font-size="10.69" text-anchor="middle" fill="#111" stroke="#111">Migration Energy(eV)</text>
<text x="374.94" y="165.90" font-size="10.5" text-anchor="middle" fill="#111" stroke="#111">Migration Pathway(nm)</text>
<text class="nw" x="368.34" y="180.26" font-size="10.6" text-anchor="middle" fill="#111" stroke="#111">(<tspan class="bd">b</tspan>)</text>
<text x="448.90" y="13.66" font-size="10.6" text-anchor="middle" fill="#111" stroke="#111">B on 2ORS-R</text>
<text x="292.55" y="132.10" font-size="10.3" text-anchor="middle" fill="#111" stroke="#111">P5</text>
<text x="323.47" y="123.61" font-size="10.3" text-anchor="middle" fill="#111" stroke="#111">I</text>
<text x="328.00" y="82.59" font-size="10.3" text-anchor="middle" fill="#111" stroke="#111">II</text>
<text x="347.59" y="63.13" font-size="10.3" text-anchor="middle" fill="#111" stroke="#111">III</text>
<text x="370.84" y="48.30" font-size="10.3" text-anchor="middle" fill="#111" stroke="#111">IV</text>
<text x="460.59" y="92.91" font-size="10.3" text-anchor="middle" fill="#111" stroke="#111">P3</text>
<text x="370.91" y="37.53" font-size="10.6" text-anchor="middle" fill="#ff0a0a" stroke="#ff0a0a">1.939</text>
<text x="462.03" y="82.05" font-size="10.6" text-anchor="middle" fill="#ff0a0a" stroke="#ff0a0a">1.058</text>
<text x="31.90" y="323.90" font-size="10.5" text-anchor="end" fill="#111" stroke="#111">0.0</text>
<text x="31.90" y="302.18" font-size="10.5" text-anchor="end" fill="#111" stroke="#111">0.5</text>
<text x="31.90" y="280.46" font-size="10.5" text-anchor="end" fill="#111" stroke="#111">1.0</text>
<text x="31.90" y="258.74" font-size="10.5" text-anchor="end" fill="#111" stroke="#111">1.5</text>
<text x="31.90" y="237.02" font-size="10.5" text-anchor="end" fill="#111" stroke="#111">2.0</text>
<text x="31.90" y="215.30" font-size="10.5" text-anchor="end" fill="#111" stroke="#111">2.5</text>
<text x="31.90" y="193.58" font-size="10.5" text-anchor="end" fill="#111" stroke="#111">3.0</text>
<text x="50.30" y="336.50" font-size="10.5" text-anchor="middle" fill="#111" stroke="#111">0.00</text>
<text x="82.60" y="336.50" font-size="10.5" text-anchor="middle" fill="#111" stroke="#111">0.05</text>
<text x="114.90" y="336.50" font-size="10.5" text-anchor="middle" fill="#111" stroke="#111">0.10</text>
<text x="147.20" y="336.50" font-size="10.5" text-anchor="middle" fill="#111" stroke="#111">0.15</text>
<text x="179.50" y="336.50" font-size="10.5" text-anchor="middle" fill="#111" stroke="#111">0.20</text>
<text x="211.80" y="336.50" font-size="10.5" text-anchor="middle" fill="#111" stroke="#111">0.25</text>
<text transform="translate(12.10,259.00) rotate(-90)" font-size="10.8" text-anchor="middle" fill="#111" stroke="#111">Migration Energy(eV)</text>
<text x="129.96" y="346.35" font-size="10.5" text-anchor="middle" fill="#111" stroke="#111">Migration Pathway(nm)</text>
<text class="nw" x="116.65" y="362.77" font-size="10.6" text-anchor="middle" fill="#111" stroke="#111">(<tspan class="bd">c</tspan>)</text>
<text x="193.36" y="200.41" font-size="10.6" text-anchor="middle" fill="#111" stroke="#111">BH on 2ORS-R</text>
<text x="42.87" y="307.69" font-size="10.3" text-anchor="middle" fill="#111" stroke="#111">P3</text>
<text x="74.98" y="316.56" font-size="10.3" text-anchor="middle" fill="#111" stroke="#111">I</text>
<text x="84.73" y="289.86" font-size="10.3" text-anchor="middle" fill="#111" stroke="#111">II</text>
<text x="168.42" y="288.11" font-size="10.3" text-anchor="middle" fill="#111" stroke="#111">III</text>
<text x="181.59" y="310.45" font-size="10.3" text-anchor="middle" fill="#111" stroke="#111">IV</text>
<text x="200.03" y="322.05" font-size="10.3" text-anchor="middle" fill="#111" stroke="#111">P5</text>
<text x="46.88" y="295.55" font-size="10.6" text-anchor="middle" fill="#ff0a0a" stroke="#ff0a0a">0.303</text>
<text x="168.88" y="276.85" font-size="10.6" text-anchor="middle" fill="#ff0a0a" stroke="#ff0a0a">0.740</text>
<text x="282.40" y="318.40" font-size="10.5" text-anchor="end" fill="#111" stroke="#111">0.0</text>
<text x="282.40" y="297.98" font-size="10.5" text-anchor="end" fill="#111" stroke="#111">0.5</text>
<text x="282.40" y="277.56" font-size="10.5" text-anchor="end" fill="#111" stroke="#111">1.0</text>
<text x="282.40" y="257.14" font-size="10.5" text-anchor="end" fill="#111" stroke="#111">1.5</text>
<text x="282.40" y="236.72" font-size="10.5" text-anchor="end" fill="#111" stroke="#111">2.0</text>
<text x="282.40" y="216.30" font-size="10.5" text-anchor="end" fill="#111" stroke="#111">2.5</text>
<text x="282.40" y="195.88" font-size="10.5" text-anchor="end" fill="#111" stroke="#111">3.0</text>
<text x="284.60" y="334.60" font-size="10.5" text-anchor="middle" fill="#111" stroke="#111">-0.1</text>
<text x="306.80" y="334.60" font-size="10.5" text-anchor="middle" fill="#111" stroke="#111">0.0</text>
<text x="329.00" y="334.60" font-size="10.5" text-anchor="middle" fill="#111" stroke="#111">0.1</text>
<text x="351.20" y="334.60" font-size="10.5" text-anchor="middle" fill="#111" stroke="#111">0.2</text>
<text x="373.40" y="334.60" font-size="10.5" text-anchor="middle" fill="#111" stroke="#111">0.3</text>
<text x="395.60" y="334.60" font-size="10.5" text-anchor="middle" fill="#111" stroke="#111">0.4</text>
<text x="417.80" y="334.60" font-size="10.5" text-anchor="middle" fill="#111" stroke="#111">0.5</text>
<text x="440.00" y="334.60" font-size="10.5" text-anchor="middle" fill="#111" stroke="#111">0.6</text>
<text x="462.20" y="334.60" font-size="10.5" text-anchor="middle" fill="#111" stroke="#111">0.7</text>
<text transform="translate(264.40,254.60) rotate(-90)" font-size="10.53" text-anchor="middle" fill="#111" stroke="#111">Migration Energy(eV)</text>
<text x="373.44" y="347.70" font-size="10.5" text-anchor="middle" fill="#111" stroke="#111">Migration Pathway(nm)</text>
<text class="nw" x="368.46" y="362.65" font-size="10.6" text-anchor="middle" fill="#111" stroke="#111">(<tspan class="bd">d</tspan>)</text>
<text x="445.34" y="196.16" font-size="10.6" text-anchor="middle" fill="#111" stroke="#111">B on 2ORS-CO</text>
<text x="299.00" y="284.25" font-size="10.3" text-anchor="middle" fill="#111" stroke="#111">P1</text>
<text x="319.97" y="275.94" font-size="10.3" text-anchor="middle" fill="#111" stroke="#111">I</text>
<text x="329.75" y="246.36" font-size="10.3" text-anchor="middle" fill="#111" stroke="#111">II</text>
<text x="347.90" y="252.86" font-size="10.3" text-anchor="middle" fill="#111" stroke="#111">III</text>
<text x="349.13" y="278.40" font-size="10.3" text-anchor="middle" fill="#111" stroke="#111">IV</text>
<text x="367.87" y="321.51" font-size="10.3" text-anchor="middle" fill="#111" stroke="#111">P3</text>
<text x="405.91" y="280.30" font-size="10.3" text-anchor="middle" fill="#111" stroke="#111">IV'</text>
<text x="406.55" y="254.38" font-size="10.3" text-anchor="middle" fill="#111" stroke="#111">III'</text>
<text x="426.67" y="245.41" font-size="10.3" text-anchor="middle" fill="#111" stroke="#111">II'</text>
<text x="433.78" y="273.96" font-size="10.3" text-anchor="middle" fill="#111" stroke="#111">I'</text>
<text x="457.06" y="284.45" font-size="10.3" text-anchor="middle" fill="#111" stroke="#111">P1'</text>
<text x="324.83" y="235.42" font-size="10.6" text-anchor="middle" fill="#ff0a0a" stroke="#ff0a0a">1.632</text>
<text x="297.08" y="273.55" font-size="10.6" text-anchor="middle" fill="#ff0a0a" stroke="#ff0a0a">0.807</text>
<text x="29.10" y="506.15" font-size="10.5" text-anchor="end" fill="#111" stroke="#111">0.0</text>
<text x="29.10" y="484.83" font-size="10.5" text-anchor="end" fill="#111" stroke="#111">0.5</text>
<text x="29.10" y="463.51" font-size="10.5" text-anchor="end" fill="#111" stroke="#111">1.0</text>
<text x="29.10" y="442.19" font-size="10.5" text-anchor="end" fill="#111" stroke="#111">1.5</text>
<text x="29.10" y="420.87" font-size="10.5" text-anchor="end" fill="#111" stroke="#111">2.0</text>
<text x="29.10" y="399.55" font-size="10.5" text-anchor="end" fill="#111" stroke="#111">2.5</text>
<text x="29.10" y="378.23" font-size="10.5" text-anchor="end" fill="#111" stroke="#111">3.0</text>
<text x="47.90" y="517.90" font-size="10.5" text-anchor="middle" fill="#111" stroke="#111">0.00</text>
<text x="80.56" y="517.90" font-size="10.5" text-anchor="middle" fill="#111" stroke="#111">0.05</text>
<text x="113.22" y="517.90" font-size="10.5" text-anchor="middle" fill="#111" stroke="#111">0.10</text>
<text x="145.88" y="517.90" font-size="10.5" text-anchor="middle" fill="#111" stroke="#111">0.15</text>
<text x="178.54" y="517.90" font-size="10.5" text-anchor="middle" fill="#111" stroke="#111">0.20</text>
<text x="211.20" y="517.90" font-size="10.5" text-anchor="middle" fill="#111" stroke="#111">0.25</text>
<text transform="translate(10.65,444.20) rotate(-90)" font-size="10.66" text-anchor="middle" fill="#111" stroke="#111">Migration Energy(eV)</text>
<text x="121.34" y="529.70" font-size="10.5" text-anchor="middle" fill="#111" stroke="#111">Migration Pathway(nm)</text>
<text class="nw" x="116.48" y="545.56" font-size="10.6" text-anchor="middle" fill="#111" stroke="#111">(<tspan class="bd">e</tspan>)</text>
<text x="191.17" y="378.34" font-size="10.6" text-anchor="middle" fill="#111" stroke="#111">BH on 2ORS-CO</text>
<text x="40.62" y="504.80" font-size="10.3" text-anchor="middle" fill="#111" stroke="#111">P5</text>
<text x="63.43" y="494.99" font-size="10.3" text-anchor="middle" fill="#111" stroke="#111">I</text>
<text x="78.58" y="472.29" font-size="10.3" text-anchor="middle" fill="#111" stroke="#111">II</text>
<text x="159.15" y="472.41" font-size="10.3" text-anchor="middle" fill="#111" stroke="#111">III</text>
<text x="174.26" y="485.50" font-size="10.3" text-anchor="middle" fill="#111" stroke="#111">IV</text>
<text x="196.73" y="495.79" font-size="10.3" text-anchor="middle" fill="#111" stroke="#111">P3</text>
<text x="76.47" y="461.20" font-size="10.6" text-anchor="middle" fill="#ff0a0a" stroke="#ff0a0a">0.765</text>
<text x="202.90" y="483.45" font-size="10.6" text-anchor="middle" fill="#ff0a0a" stroke="#ff0a0a">0.304</text>
<text x="275.30" y="498.80" font-size="10.5" text-anchor="end" fill="#111" stroke="#111">0.0</text>
<text x="275.30" y="478.25" font-size="10.5" text-anchor="end" fill="#111" stroke="#111">0.5</text>
<text x="275.30" y="457.70" font-size="10.5" text-anchor="end" fill="#111" stroke="#111">1.0</text>
<text x="275.30" y="437.15" font-size="10.5" text-anchor="end" fill="#111" stroke="#111">1.5</text>
<text x="275.30" y="416.60" font-size="10.5" text-anchor="end" fill="#111" stroke="#111">2.0</text>
<text x="275.30" y="396.05" font-size="10.5" text-anchor="end" fill="#111" stroke="#111">2.5</text>
<text x="275.30" y="375.50" font-size="10.5" text-anchor="end" fill="#111" stroke="#111">3.0</text>
<text x="291.10" y="517.30" font-size="10.5" text-anchor="middle" fill="#111" stroke="#111">0.00</text>
<text x="317.10" y="517.30" font-size="10.5" text-anchor="middle" fill="#111" stroke="#111">0.05</text>
<text x="343.10" y="517.30" font-size="10.5" text-anchor="middle" fill="#111" stroke="#111">0.10</text>
<text x="369.10" y="517.30" font-size="10.5" text-anchor="middle" fill="#111" stroke="#111">0.15</text>
<text x="395.10" y="517.30" font-size="10.5" text-anchor="middle" fill="#111" stroke="#111">0.20</text>
<text x="421.10" y="517.30" font-size="10.5" text-anchor="middle" fill="#111" stroke="#111">0.25</text>
<text x="447.10" y="517.30" font-size="10.5" text-anchor="middle" fill="#111" stroke="#111">0.30</text>
<text transform="translate(254.10,446.20) rotate(-90)" font-size="10.75" text-anchor="middle" fill="#111" stroke="#111">Migration Energy(eV)</text>
<text x="373.12" y="529.70" font-size="10.5" text-anchor="middle" fill="#111" stroke="#111">Migration Pathway(nm)</text>
<text class="nw" x="368.58" y="545.49" font-size="10.6" text-anchor="middle" fill="#111" stroke="#111">(<tspan class="bd">f</tspan>)</text>
<text x="454.94" y="380.62" font-size="10.6" text-anchor="middle" fill="#111" stroke="#111">B on 2ORS-CC</text>
<text x="286.00" y="494.25" font-size="10.3" text-anchor="middle" fill="#111" stroke="#111">P1</text>
<text x="311.90" y="471.88" font-size="10.3" text-anchor="middle" fill="#111" stroke="#111">I</text>
<text x="339.67" y="414.69" font-size="10.3" text-anchor="middle" fill="#111" stroke="#111">II</text>
<text x="372.84" y="410.06" font-size="10.3" text-anchor="middle" fill="#111" stroke="#111">III</text>
<text x="402.88" y="388.75" font-size="10.3" text-anchor="middle" fill="#111" stroke="#111">IV</text>
<text x="448.16" y="463.64" font-size="10.3" text-anchor="middle" fill="#111" stroke="#111">P3</text>
<text x="399.38" y="374.93" font-size="10.6" text-anchor="middle" fill="#ff0a0a" stroke="#ff0a0a">2.557</text>
<text x="450.15" y="450.05" font-size="10.6" text-anchor="middle" fill="#ff0a0a" stroke="#ff0a0a">0.964</text>
</svg>
</body></html>
